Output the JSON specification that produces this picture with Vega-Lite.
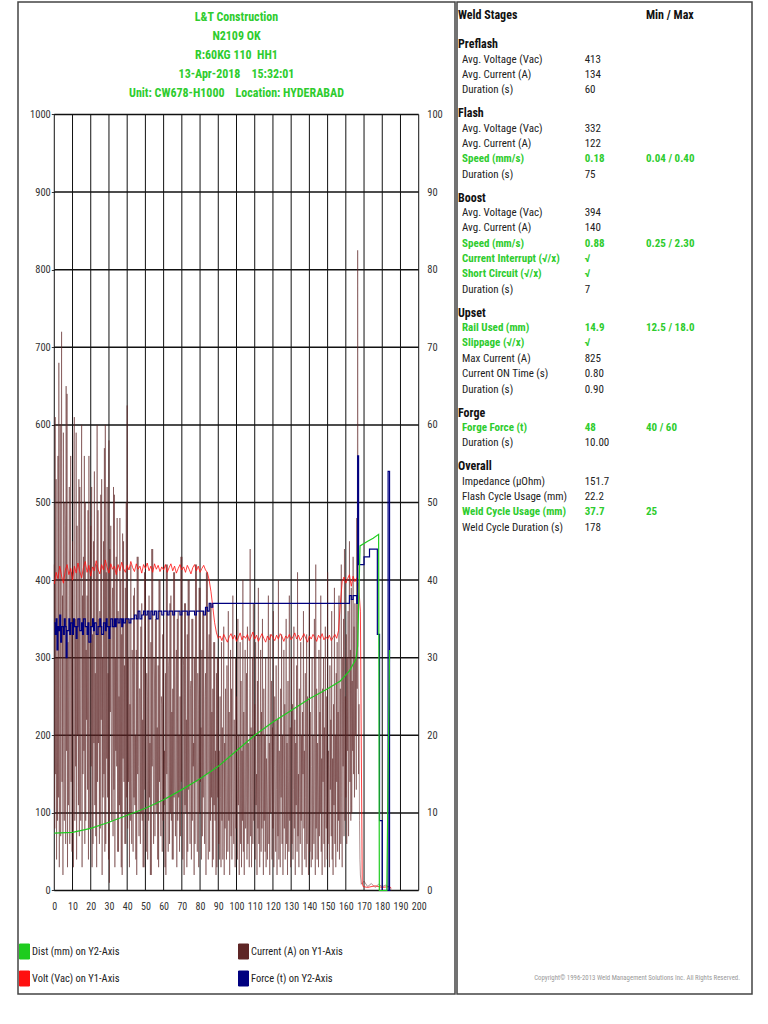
{
"$schema": "https://vega.github.io/schema/vega-lite/v6.json",
"padding": {"left": 17, "top": 1, "right": 0, "bottom": 0},
"background": "white",
"spacing": 0,
"config": {
  "view": {"stroke": "#444", "strokeWidth": 1.5},
  "font": "'Roboto Condensed', 'DejaVu Sans Condensed', 'Liberation Sans', sans-serif",
  "axis": {"labelOverlap": false}
},
"datasets": {
"gx": [{"g":0},{"g":10},{"g":20},{"g":30},{"g":40},{"g":50},{"g":60},{"g":70},{"g":80},{"g":90},{"g":100},{"g":110},{"g":120},{"g":130},{"g":140},{"g":150},{"g":160},{"g":170},{"g":180},{"g":190},{"g":200}],
"gy": [{"g":0},{"g":100},{"g":200},{"g":300},{"g":400},{"g":500},{"g":600},{"g":700},{"g":800},{"g":900},{"g":1000}],
"cur": [
{"t":0,"v":420},{"t":0.25,"v":80},{"t":0.5,"v":610},{"t":0.75,"v":150},
{"t":1,"v":530},{"t":1.25,"v":40},{"t":1.5,"v":300},{"t":1.75,"v":90},
{"t":2,"v":560},{"t":2.25,"v":120},{"t":2.5,"v":680},{"t":2.75,"v":30},
{"t":3,"v":250},{"t":3.25,"v":600},{"t":3.5,"v":70},{"t":3.75,"v":460},
{"t":4,"v":720},{"t":4.25,"v":140},{"t":4.5,"v":380},{"t":4.75,"v":20},
{"t":5,"v":590},{"t":5.25,"v":210},{"t":5.5,"v":90},{"t":5.75,"v":500},
{"t":6,"v":470},{"t":6.25,"v":60},{"t":6.5,"v":650},{"t":6.75,"v":180},
{"t":7,"v":640},{"t":7.25,"v":30},{"t":7.5,"v":320},{"t":7.75,"v":110},
{"t":8,"v":380},{"t":8.25,"v":520},{"t":8.5,"v":60},{"t":8.75,"v":270},
{"t":9,"v":560},{"t":9.25,"v":140},{"t":9.5,"v":410},{"t":9.75,"v":50},
{"t":10,"v":450},{"t":10.25,"v":230},{"t":10.5,"v":30},{"t":10.75,"v":580},
{"t":11,"v":610},{"t":11.25,"v":90},{"t":11.5,"v":350},{"t":11.75,"v":160},
{"t":12,"v":590},{"t":12.25,"v":40},{"t":12.5,"v":470},{"t":12.75,"v":200},
{"t":13,"v":350},{"t":13.25,"v":110},{"t":13.5,"v":530},{"t":13.75,"v":70},
{"t":14,"v":520},{"t":14.25,"v":260},{"t":14.5,"v":90},{"t":14.75,"v":440},
{"t":15,"v":600},{"t":15.25,"v":30},{"t":15.5,"v":380},{"t":15.75,"v":150},
{"t":16,"v":430},{"t":16.25,"v":180},{"t":16.5,"v":560},{"t":16.75,"v":60},
{"t":17,"v":500},{"t":17.25,"v":90},{"t":17.5,"v":310},{"t":17.75,"v":220},
{"t":18,"v":380},{"t":18.25,"v":130},{"t":18.5,"v":490},{"t":18.75,"v":40},
{"t":19,"v":560},{"t":19.25,"v":210},{"t":19.5,"v":80},{"t":19.75,"v":410},
{"t":20,"v":470},{"t":20.25,"v":160},{"t":20.5,"v":520},{"t":20.75,"v":30},
{"t":21,"v":330},{"t":21.25,"v":60},{"t":21.5,"v":450},{"t":21.75,"v":190},
{"t":22,"v":540},{"t":22.25,"v":110},{"t":22.5,"v":280},{"t":22.75,"v":70},
{"t":23,"v":420},{"t":23.25,"v":30},{"t":23.5,"v":600},{"t":23.75,"v":140},
{"t":24,"v":490},{"t":24.25,"v":190},{"t":24.5,"v":350},{"t":24.75,"v":60},
{"t":25,"v":360},{"t":25.25,"v":80},{"t":25.5,"v":510},{"t":25.75,"v":220},
{"t":26,"v":530},{"t":26.25,"v":20},{"t":26.5,"v":300},{"t":26.75,"v":120},
{"t":27,"v":450},{"t":27.25,"v":150},{"t":27.5,"v":570},{"t":27.75,"v":50},
{"t":28,"v":600},{"t":28.25,"v":60},{"t":28.5,"v":410},{"t":28.75,"v":170},
{"t":29,"v":520},{"t":29.25,"v":120},{"t":29.5,"v":280},{"t":29.75,"v":40},
{"t":30,"v":580},{"t":30.25,"v":10},{"t":30.5,"v":440},{"t":30.75,"v":230},
{"t":31,"v":470},{"t":31.25,"v":200},{"t":31.5,"v":90},{"t":31.75,"v":360},
{"t":32,"v":390},{"t":32.25,"v":70},{"t":32.5,"v":520},{"t":32.75,"v":130},
{"t":33,"v":510},{"t":33.25,"v":30},{"t":33.5,"v":300},{"t":33.75,"v":180},
{"t":34,"v":430},{"t":34.25,"v":160},{"t":34.5,"v":480},{"t":34.75,"v":50},
{"t":35,"v":360},{"t":35.25,"v":50},{"t":35.5,"v":250},{"t":35.75,"v":110},
{"t":36,"v":480},{"t":36.25,"v":100},{"t":36.5,"v":400},{"t":36.75,"v":30},
{"t":37,"v":330},{"t":37.25,"v":20},{"t":37.5,"v":460},{"t":37.75,"v":170},
{"t":38,"v":450},{"t":38.25,"v":140},{"t":38.5,"v":290},{"t":38.75,"v":60},
{"t":39,"v":390},{"t":39.25,"v":60},{"t":39.5,"v":500},{"t":39.75,"v":120},
{"t":40,"v":625},{"t":40.25,"v":80},{"t":40.5,"v":300},{"t":40.75,"v":140},
{"t":41,"v":350},{"t":41.25,"v":30},{"t":41.5,"v":240},{"t":41.75,"v":90},
{"t":42,"v":420},{"t":42.25,"v":140},{"t":42.5,"v":60},{"t":42.75,"v":310},
{"t":43,"v":280},{"t":43.25,"v":50},{"t":43.5,"v":380},{"t":43.75,"v":120},
{"t":44,"v":390},{"t":44.25,"v":110},{"t":44.5,"v":200},{"t":44.75,"v":40},
{"t":45,"v":310},{"t":45.25,"v":20},{"t":45.5,"v":430},{"t":45.75,"v":150},
{"t":46,"v":430},{"t":46.25,"v":160},{"t":46.5,"v":70},{"t":46.75,"v":260},
{"t":47,"v":260},{"t":47.25,"v":60},{"t":47.5,"v":340},{"t":47.75,"v":100},
{"t":48,"v":370},{"t":48.25,"v":90},{"t":48.5,"v":220},{"t":48.75,"v":30},
{"t":49,"v":300},{"t":49.25,"v":30},{"t":49.5,"v":410},{"t":49.75,"v":130},
{"t":50,"v":410},{"t":50.25,"v":150},{"t":50.5,"v":50},{"t":50.75,"v":280},
{"t":51,"v":250},{"t":51.25,"v":40},{"t":51.5,"v":360},{"t":51.75,"v":90},
{"t":52,"v":380},{"t":52.25,"v":120},{"t":52.5,"v":190},{"t":52.75,"v":20},
{"t":53,"v":320},{"t":53.25,"v":20},{"t":53.5,"v":440},{"t":53.75,"v":160},
{"t":54,"v":440},{"t":54.25,"v":170},{"t":54.5,"v":60},{"t":54.75,"v":300},
{"t":55,"v":270},{"t":55.25,"v":70},{"t":55.5,"v":350},{"t":55.75,"v":110},
{"t":56,"v":360},{"t":56.25,"v":100},{"t":56.5,"v":210},{"t":56.75,"v":40},
{"t":57,"v":290},{"t":57.25,"v":30},{"t":57.5,"v":400},{"t":57.75,"v":140},
{"t":58,"v":400},{"t":58.25,"v":130},{"t":58.5,"v":70},{"t":58.75,"v":250},
{"t":59,"v":240},{"t":59.25,"v":50},{"t":59.5,"v":330},{"t":59.75,"v":90},
{"t":60,"v":350},{"t":60.25,"v":110},{"t":60.5,"v":180},{"t":60.75,"v":30},
{"t":61,"v":280},{"t":61.25,"v":20},{"t":61.5,"v":420},{"t":61.75,"v":150},
{"t":62,"v":420},{"t":62.25,"v":160},{"t":62.5,"v":50},{"t":62.75,"v":290},
{"t":63,"v":300},{"t":63.25,"v":60},{"t":63.5,"v":370},{"t":63.75,"v":100},
{"t":64,"v":380},{"t":64.25,"v":90},{"t":64.5,"v":230},{"t":64.75,"v":40},
{"t":65,"v":260},{"t":65.25,"v":40},{"t":65.5,"v":410},{"t":65.75,"v":120},
{"t":66,"v":410},{"t":66.25,"v":140},{"t":66.5,"v":70},{"t":66.75,"v":270},
{"t":67,"v":310},{"t":67.25,"v":30},{"t":67.5,"v":350},{"t":67.75,"v":90},
{"t":68,"v":360},{"t":68.25,"v":120},{"t":68.5,"v":200},{"t":68.75,"v":50},
{"t":69,"v":250},{"t":69.25,"v":70},{"t":69.5,"v":430},{"t":69.75,"v":140},
{"t":70,"v":430},{"t":70.25,"v":150},{"t":70.5,"v":40},{"t":70.75,"v":300},
{"t":71,"v":290},{"t":71.25,"v":20},{"t":71.5,"v":370},{"t":71.75,"v":110},
{"t":72,"v":370},{"t":72.25,"v":100},{"t":72.5,"v":220},{"t":72.75,"v":30},
{"t":73,"v":330},{"t":73.25,"v":50},{"t":73.5,"v":400},{"t":73.75,"v":130},
{"t":74,"v":400},{"t":74.25,"v":130},{"t":74.5,"v":60},{"t":74.75,"v":260},
{"t":75,"v":270},{"t":75.25,"v":40},{"t":75.5,"v":350},{"t":75.75,"v":90},
{"t":76,"v":350},{"t":76.25,"v":160},{"t":76.5,"v":190},{"t":76.75,"v":20},
{"t":77,"v":300},{"t":77.25,"v":60},{"t":77.5,"v":420},{"t":77.75,"v":140},
{"t":78,"v":420},{"t":78.25,"v":110},{"t":78.5,"v":50},{"t":78.75,"v":280},
{"t":79,"v":240},{"t":79.25,"v":30},{"t":79.5,"v":390},{"t":79.75,"v":100},
{"t":80,"v":390},{"t":80.25,"v":140},{"t":80.5,"v":210},{"t":80.75,"v":40},
{"t":81,"v":310},{"t":81.25,"v":70},{"t":81.5,"v":360},{"t":81.75,"v":120},
{"t":82,"v":360},{"t":82.25,"v":100},{"t":82.5,"v":60},{"t":82.75,"v":250},
{"t":83,"v":280},{"t":83.25,"v":20},{"t":83.5,"v":410},{"t":83.75,"v":150},
{"t":84,"v":410},{"t":84.25,"v":150},{"t":84.5,"v":40},{"t":84.75,"v":300},
{"t":85,"v":330},{"t":85.25,"v":50},{"t":85.5,"v":370},{"t":85.75,"v":90},
{"t":86,"v":370},{"t":86.25,"v":120},{"t":86.5,"v":230},{"t":86.75,"v":30},
{"t":87,"v":260},{"t":87.25,"v":40},{"t":87.5,"v":320},{"t":87.75,"v":110},
{"t":88,"v":320},{"t":88.25,"v":90},{"t":88.5,"v":180},{"t":88.75,"v":20},
{"t":89,"v":280},{"t":89.25,"v":30},{"t":89.5,"v":300},{"t":89.75,"v":120},
{"t":90,"v":300},{"t":90.25,"v":60},{"t":90.5,"v":180},{"t":90.75,"v":40},
{"t":91,"v":250},{"t":91.25,"v":120},{"t":91.5,"v":30},{"t":91.75,"v":320},
{"t":92,"v":90},{"t":92.25,"v":210},{"t":92.5,"v":40},{"t":92.75,"v":150},
{"t":93,"v":340},{"t":93.25,"v":20},{"t":93.5,"v":190},{"t":93.75,"v":80},
{"t":94,"v":260},{"t":94.25,"v":110},{"t":94.5,"v":40},{"t":94.75,"v":290},
{"t":95,"v":150},{"t":95.25,"v":50},{"t":95.5,"v":360},{"t":95.75,"v":90},
{"t":96,"v":230},{"t":96.25,"v":20},{"t":96.5,"v":130},{"t":96.75,"v":310},
{"t":97,"v":70},{"t":97.25,"v":260},{"t":97.5,"v":40},{"t":97.75,"v":190},
{"t":98,"v":380},{"t":98.25,"v":100},{"t":98.5,"v":60},{"t":98.75,"v":220},
{"t":99,"v":140},{"t":99.25,"v":30},{"t":99.5,"v":300},{"t":99.75,"v":80},
{"t":100,"v":250},{"t":100.25,"v":140},{"t":100.5,"v":40},{"t":100.75,"v":350},
{"t":101,"v":110},{"t":101.25,"v":200},{"t":101.5,"v":20},{"t":101.75,"v":160},
{"t":102,"v":320},{"t":102.25,"v":60},{"t":102.5,"v":270},{"t":102.75,"v":30},
{"t":103,"v":180},{"t":103.25,"v":90},{"t":103.5,"v":400},{"t":103.75,"v":50},
{"t":104,"v":230},{"t":104.25,"v":20},{"t":104.5,"v":150},{"t":104.75,"v":310},
{"t":105,"v":80},{"t":105.25,"v":120},{"t":105.5,"v":280},{"t":105.75,"v":40},
{"t":106,"v":340},{"t":106.25,"v":60},{"t":106.5,"v":190},{"t":106.75,"v":100},
{"t":107,"v":30},{"t":107.25,"v":260},{"t":107.5,"v":440},{"t":107.75,"v":70},
{"t":108,"v":210},{"t":108.25,"v":30},{"t":108.5,"v":130},{"t":108.75,"v":300},
{"t":109,"v":60},{"t":109.25,"v":370},{"t":109.5,"v":90},{"t":109.75,"v":180},
{"t":110,"v":240},{"t":110.25,"v":40},{"t":110.5,"v":320},{"t":110.75,"v":110},
{"t":111,"v":150},{"t":111.25,"v":20},{"t":111.5,"v":270},{"t":111.75,"v":80},
{"t":112,"v":390},{"t":112.25,"v":60},{"t":112.5,"v":200},{"t":112.75,"v":30},
{"t":113,"v":120},{"t":113.25,"v":310},{"t":113.5,"v":50},{"t":113.75,"v":230},
{"t":114,"v":80},{"t":114.25,"v":350},{"t":114.5,"v":140},{"t":114.75,"v":20},
{"t":115,"v":260},{"t":115.25,"v":90},{"t":115.5,"v":200},{"t":115.75,"v":50},
{"t":116,"v":300},{"t":116.25,"v":30},{"t":116.5,"v":170},{"t":116.75,"v":120},
{"t":117,"v":40},{"t":117.25,"v":240},{"t":117.5,"v":380},{"t":117.75,"v":60},
{"t":118,"v":190},{"t":118.25,"v":20},{"t":118.5,"v":330},{"t":118.75,"v":100},
{"t":119,"v":140},{"t":119.25,"v":270},{"t":119.5,"v":40},{"t":119.75,"v":210},
{"t":120,"v":80},{"t":120.25,"v":360},{"t":120.5,"v":30},{"t":120.75,"v":160},
{"t":121,"v":250},{"t":121.25,"v":110},{"t":121.5,"v":50},{"t":121.75,"v":290},
{"t":122,"v":130},{"t":122.25,"v":20},{"t":122.5,"v":220},{"t":122.75,"v":70},
{"t":123,"v":400},{"t":123.25,"v":40},{"t":123.5,"v":180},{"t":123.75,"v":100},
{"t":124,"v":30},{"t":124.25,"v":260},{"t":124.5,"v":120},{"t":124.75,"v":330},
{"t":125,"v":60},{"t":125.25,"v":200},{"t":125.5,"v":20},{"t":125.75,"v":150},
{"t":126,"v":310},{"t":126.25,"v":80},{"t":126.5,"v":240},{"t":126.75,"v":40},
{"t":127,"v":110},{"t":127.25,"v":350},{"t":127.5,"v":60},{"t":127.75,"v":190},
{"t":128,"v":20},{"t":128.25,"v":270},{"t":128.5,"v":140},{"t":128.75,"v":50},
{"t":129,"v":380},{"t":129.25,"v":90},{"t":129.5,"v":210},{"t":129.75,"v":30},
{"t":130,"v":160},{"t":130.25,"v":300},{"t":130.5,"v":60},{"t":130.75,"v":240},
{"t":131,"v":40},{"t":131.25,"v":130},{"t":131.5,"v":340},{"t":131.75,"v":80},
{"t":132,"v":220},{"t":132.25,"v":20},{"t":132.5,"v":190},{"t":132.75,"v":110},
{"t":133,"v":290},{"t":133.25,"v":50},{"t":133.5,"v":410},{"t":133.75,"v":70},
{"t":134,"v":150},{"t":134.25,"v":30},{"t":134.5,"v":260},{"t":134.75,"v":120},
{"t":135,"v":60},{"t":135.25,"v":320},{"t":135.5,"v":90},{"t":135.75,"v":200},
{"t":136,"v":20},{"t":136.25,"v":230},{"t":136.5,"v":150},{"t":136.75,"v":360},
{"t":137,"v":80},{"t":137.25,"v":180},{"t":137.5,"v":40},{"t":137.75,"v":280},
{"t":138,"v":120},{"t":138.25,"v":30},{"t":138.5,"v":330},{"t":138.75,"v":60},
{"t":139,"v":250},{"t":139.25,"v":100},{"t":139.5,"v":20},{"t":139.75,"v":190},
{"t":140,"v":370},{"t":140.25,"v":50},{"t":140.5,"v":230},{"t":140.75,"v":90},
{"t":141,"v":30},{"t":141.25,"v":160},{"t":141.5,"v":300},{"t":141.75,"v":40},
{"t":142,"v":200},{"t":142.25,"v":110},{"t":142.5,"v":60},{"t":142.75,"v":350},
{"t":143,"v":140},{"t":143.25,"v":20},{"t":143.5,"v":420},{"t":143.75,"v":80},
{"t":144,"v":260},{"t":144.25,"v":40},{"t":144.5,"v":190},{"t":144.75,"v":120},
{"t":145,"v":30},{"t":145.25,"v":310},{"t":145.5,"v":70},{"t":145.75,"v":230},
{"t":146,"v":100},{"t":146.25,"v":380},{"t":146.5,"v":50},{"t":146.75,"v":170},
{"t":147,"v":20},{"t":147.25,"v":260},{"t":147.5,"v":140},{"t":147.75,"v":300},
{"t":148,"v":60},{"t":148.25,"v":210},{"t":148.5,"v":30},{"t":148.75,"v":340},
{"t":149,"v":120},{"t":149.25,"v":80},{"t":149.5,"v":250},{"t":149.75,"v":40},
{"t":150,"v":410},{"t":150.25,"v":60},{"t":150.5,"v":180},{"t":150.75,"v":100},
{"t":151,"v":30},{"t":151.25,"v":290},{"t":151.5,"v":130},{"t":151.75,"v":220},
{"t":152,"v":70},{"t":152.25,"v":360},{"t":152.5,"v":40},{"t":152.75,"v":170},
{"t":153,"v":20},{"t":153.25,"v":240},{"t":153.5,"v":110},{"t":153.75,"v":390},
{"t":154,"v":60},{"t":154.25,"v":200},{"t":154.5,"v":30},{"t":154.75,"v":280},
{"t":155,"v":140},{"t":155.25,"v":320},{"t":155.5,"v":50},{"t":155.75,"v":230},
{"t":156,"v":90},{"t":156.25,"v":380},{"t":156.5,"v":40},{"t":156.75,"v":180},
{"t":157,"v":260},{"t":157.25,"v":60},{"t":157.5,"v":420},{"t":157.75,"v":120},
{"t":158,"v":30},{"t":158.25,"v":300},{"t":158.5,"v":160},{"t":158.75,"v":350},
{"t":159,"v":70},{"t":159.25,"v":440},{"t":159.5,"v":90},{"t":159.75,"v":250},
{"t":160,"v":120},{"t":160.25,"v":330},{"t":160.5,"v":60},{"t":160.75,"v":300},
{"t":161,"v":180},{"t":161.25,"v":360},{"t":161.5,"v":70},{"t":161.75,"v":280},
{"t":162,"v":450},{"t":162.25,"v":140},{"t":162.5,"v":310},{"t":162.75,"v":90},
{"t":163,"v":390},{"t":163.25,"v":100},{"t":163.5,"v":270},{"t":163.75,"v":180},
{"t":164,"v":430},{"t":164.25,"v":150},{"t":164.5,"v":340},{"t":164.75,"v":120},
{"t":165,"v":370},{"t":165.25,"v":200},{"t":165.5,"v":300},{"t":165.75,"v":130},
{"t":166,"v":480},{"t":166.25,"v":260},{"t":166.5,"v":825},{"t":166.75,"v":300},
{"t":167,"v":150},{"t":167.25,"v":240},{"t":167.5,"v":90},{"t":167.75,"v":40},
{"t":168,"v":20},{"t":168.5,"v":8},{"t":170,"v":12},{"t":172,"v":5},{"t":174,"v":9},{"t":176,"v":4},{"t":178,"v":8},{"t":180,"v":5},{"t":182,"v":7},{"t":184,"v":4},{"t":185,"v":0}],
"volt": [{"t":0,"v":395},{"t":1,"v":410},{"t":2,"v":402},{"t":3,"v":418},{"t":4,"v":405},{"t":5,"v":396},{"t":6,"v":412},{"t":7,"v":420},{"t":8,"v":407},{"t":9,"v":415},{"t":10,"v":400},{"t":11,"v":418},{"t":12,"v":409},{"t":13,"v":422},{"t":14,"v":411},{"t":15,"v":403},{"t":16,"v":416},{"t":17,"v":424},{"t":18,"v":410},{"t":19,"v":419},{"t":20,"v":405},{"t":21,"v":417},{"t":22,"v":412},{"t":23,"v":425},{"t":24,"v":414},{"t":25,"v":408},{"t":26,"v":420},{"t":27,"v":413},{"t":28,"v":426},{"t":29,"v":416},{"t":30,"v":409},{"t":31,"v":421},{"t":32,"v":414},{"t":33,"v":418},{"t":34,"v":407},{"t":35,"v":420},{"t":36,"v":412},{"t":37,"v":423},{"t":38,"v":415},{"t":39,"v":410},{"t":40,"v":419},{"t":41,"v":413},{"t":42,"v":424},{"t":43,"v":416},{"t":44,"v":411},{"t":45,"v":421},{"t":46,"v":414},{"t":47,"v":418},{"t":48,"v":409},{"t":49,"v":420},{"t":50,"v":415},{"t":51,"v":422},{"t":52,"v":412},{"t":53,"v":418},{"t":54,"v":410},{"t":55,"v":421},{"t":56,"v":414},{"t":57,"v":419},{"t":58,"v":411},{"t":59,"v":417},{"t":60,"v":413},{"t":61,"v":420},{"t":62,"v":410},{"t":63,"v":416},{"t":64,"v":421},{"t":65,"v":412},{"t":66,"v":418},{"t":67,"v":409},{"t":68,"v":415},{"t":69,"v":420},{"t":70,"v":413},{"t":71,"v":417},{"t":72,"v":410},{"t":73,"v":419},{"t":74,"v":414},{"t":75,"v":408},{"t":76,"v":416},{"t":77,"v":420},{"t":78,"v":412},{"t":79,"v":418},{"t":80,"v":410},{"t":81,"v":415},{"t":82,"v":419},{"t":83,"v":413},{"t":84,"v":410},{"t":85,"v":400},{"t":86,"v":385},{"t":87,"v":365},{"t":88,"v":345},{"t":89,"v":332},{"t":90,"v":325},{"t":91,"v":328},{"t":92,"v":322},{"t":93,"v":330},{"t":94,"v":325},{"t":95,"v":320},{"t":96,"v":327},{"t":97,"v":331},{"t":98,"v":324},{"t":99,"v":329},{"t":100,"v":321},{"t":101,"v":326},{"t":102,"v":332},{"t":103,"v":323},{"t":104,"v":328},{"t":105,"v":325},{"t":106,"v":330},{"t":107,"v":322},{"t":108,"v":327},{"t":109,"v":333},{"t":110,"v":324},{"t":111,"v":329},{"t":112,"v":321},{"t":113,"v":326},{"t":114,"v":331},{"t":115,"v":325},{"t":116,"v":320},{"t":117,"v":328},{"t":118,"v":323},{"t":119,"v":330},{"t":120,"v":326},{"t":121,"v":322},{"t":122,"v":329},{"t":123,"v":324},{"t":124,"v":331},{"t":125,"v":327},{"t":126,"v":321},{"t":127,"v":328},{"t":128,"v":325},{"t":129,"v":330},{"t":130,"v":323},{"t":131,"v":327},{"t":132,"v":332},{"t":133,"v":324},{"t":134,"v":329},{"t":135,"v":322},{"t":136,"v":326},{"t":137,"v":331},{"t":138,"v":325},{"t":139,"v":320},{"t":140,"v":328},{"t":141,"v":324},{"t":142,"v":330},{"t":143,"v":326},{"t":144,"v":321},{"t":145,"v":329},{"t":146,"v":325},{"t":147,"v":331},{"t":148,"v":323},{"t":149,"v":327},{"t":150,"v":324},{"t":151,"v":329},{"t":152,"v":322},{"t":153,"v":326},{"t":154,"v":330},{"t":155,"v":325},{"t":156,"v":335},{"t":157,"v":370},{"t":158,"v":398},{"t":159,"v":404},{"t":160,"v":396},{"t":161,"v":402},{"t":162,"v":407},{"t":163,"v":392},{"t":164,"v":405},{"t":165,"v":398},{"t":166,"v":403},{"t":167,"v":395},{"t":168,"v":360},{"t":169,"v":10},{"t":169.5,"v":5},{"t":172,"v":4},{"t":176,"v":6},{"t":180,"v":4},{"t":184,"v":5},{"t":185,"v":3}],
"force": [{"t":0,"v":34.5},{"t":0.5,"v":33},{"t":1,"v":35},{"t":1.5,"v":31},{"t":2,"v":34},{"t":2.5,"v":33.5},{"t":3,"v":35.5},{"t":3.5,"v":32},{"t":4,"v":34},{"t":5,"v":33},{"t":5.5,"v":35},{"t":6,"v":34},{"t":6.5,"v":30},{"t":7,"v":33.5},{"t":8,"v":35},{"t":8.5,"v":33},{"t":9,"v":34.5},{"t":10,"v":33},{"t":10.5,"v":35},{"t":11,"v":34},{"t":12,"v":32.5},{"t":12.5,"v":34},{"t":13,"v":35},{"t":14,"v":33.5},{"t":15,"v":34.5},{"t":15.5,"v":33},{"t":16,"v":35},{"t":17,"v":34},{"t":18,"v":33},{"t":18.5,"v":34.5},{"t":19,"v":32},{"t":20,"v":34},{"t":21,"v":35},{"t":21.5,"v":33.5},{"t":22,"v":34.5},{"t":23,"v":33},{"t":24,"v":34},{"t":25,"v":35},{"t":25.5,"v":34},{"t":26,"v":33},{"t":27,"v":34.5},{"t":28,"v":33.5},{"t":28.5,"v":35},{"t":29,"v":34},{"t":30,"v":32.5},{"t":30.5,"v":34},{"t":31,"v":35},{"t":32,"v":34},{"t":33,"v":35},{"t":33.5,"v":34},{"t":34,"v":35},{"t":35,"v":34.5},{"t":36,"v":35},{"t":37,"v":34},{"t":37.5,"v":35},{"t":38,"v":34.5},{"t":39,"v":35},{"t":41,"v":34.5},{"t":42,"v":35},{"t":44,"v":35.5},{"t":45,"v":35},{"t":46,"v":36},{"t":47,"v":35},{"t":48,"v":35.5},{"t":49,"v":36},{"t":50,"v":35.5},{"t":51,"v":36},{"t":52,"v":35},{"t":53,"v":36},{"t":54,"v":35.5},{"t":55,"v":36},{"t":56,"v":35},{"t":57,"v":36},{"t":59,"v":35.5},{"t":60,"v":36},{"t":62,"v":35.5},{"t":63,"v":36},{"t":65,"v":35.5},{"t":66,"v":36},{"t":69,"v":35.5},{"t":70,"v":36},{"t":73,"v":35.5},{"t":74,"v":36},{"t":77,"v":35.5},{"t":78,"v":36},{"t":82,"v":35.5},{"t":83,"v":36.5},{"t":84,"v":36},{"t":85,"v":37},{"t":86,"v":36.5},{"t":87,"v":37},{"t":162,"v":38},{"t":163,"v":37.5},{"t":164,"v":38},{"t":166,"v":37},{"t":166.5,"v":56},{"t":167,"v":42},{"t":170,"v":43},{"t":173,"v":44},{"t":177.3,"v":33},{"t":178.5,"v":9},{"t":180,"v":0},{"t":183.2,"v":54},{"t":184,"v":0},{"t":184.5,"v":0}],
"dist": [{"t":0,"v":7.4},{"t":10,"v":7.5},{"t":20,"v":8.0},{"t":30,"v":8.8},{"t":40,"v":9.7},{"t":50,"v":10.6},{"t":60,"v":11.7},{"t":70,"v":13.0},{"t":80,"v":14.4},{"t":90,"v":16.0},{"t":100,"v":18.0},{"t":110,"v":20.0},{"t":120,"v":21.7},{"t":130,"v":23.2},{"t":140,"v":24.7},{"t":150,"v":26.0},{"t":157,"v":27.0},{"t":162,"v":28.3},{"t":165.5,"v":29.8},{"t":166.5,"v":31.5},{"t":167.8,"v":44.4},{"t":172,"v":45.0},{"t":175,"v":45.4},{"t":178,"v":45.9},{"t":178.4,"v":0},{"t":182.5,"v":0},{"t":184,"v":31}],
"panel": [
{"line":0,"kind":"title","label":"Weld Stages","value":"","minmax":"Min / Max"},
{"line":1.9,"kind":"head","label":"Preflash","value":"","minmax":""},
{"line":2.9,"kind":"item","label":"Avg. Voltage (Vac)","value":"413","minmax":""},
{"line":3.9,"kind":"item","label":"Avg. Current (A)","value":"134","minmax":""},
{"line":4.9,"kind":"item","label":"Duration (s)","value":"60","minmax":""},
{"line":6.4,"kind":"head","label":"Flash","value":"","minmax":""},
{"line":7.4,"kind":"item","label":"Avg. Voltage (Vac)","value":"332","minmax":""},
{"line":8.4,"kind":"item","label":"Avg. Current (A)","value":"122","minmax":""},
{"line":9.4,"kind":"key","label":"Speed (mm/s)","value":"0.18","minmax":"0.04 / 0.40"},
{"line":10.4,"kind":"item","label":"Duration (s)","value":"75","minmax":""},
{"line":11.9,"kind":"head","label":"Boost","value":"","minmax":""},
{"line":12.9,"kind":"item","label":"Avg. Voltage (Vac)","value":"394","minmax":""},
{"line":13.9,"kind":"item","label":"Avg. Current (A)","value":"140","minmax":""},
{"line":14.9,"kind":"key","label":"Speed (mm/s)","value":"0.88","minmax":"0.25 / 2.30"},
{"line":15.9,"kind":"key","label":"Current Interrupt (√/x)","value":"√","minmax":""},
{"line":16.9,"kind":"key","label":"Short Circuit (√/x)","value":"√","minmax":""},
{"line":17.9,"kind":"item","label":"Duration (s)","value":"7","minmax":""},
{"line":19.4,"kind":"head","label":"Upset","value":"","minmax":""},
{"line":20.4,"kind":"key","label":"Rail Used (mm)","value":"14.9","minmax":"12.5 / 18.0"},
{"line":21.4,"kind":"key","label":"Slippage (√/x)","value":"√","minmax":""},
{"line":22.4,"kind":"item","label":"Max Current (A)","value":"825","minmax":""},
{"line":23.4,"kind":"item","label":"Current ON Time (s)","value":"0.80","minmax":""},
{"line":24.4,"kind":"item","label":"Duration (s)","value":"0.90","minmax":""},
{"line":25.9,"kind":"head","label":"Forge","value":"","minmax":""},
{"line":26.9,"kind":"key","label":"Forge Force (t)","value":"48","minmax":"40 / 60"},
{"line":27.9,"kind":"item","label":"Duration (s)","value":"10.00","minmax":""},
{"line":29.4,"kind":"head","label":"Overall","value":"","minmax":""},
{"line":30.4,"kind":"item","label":"Impedance (µOhm)","value":"151.7","minmax":""},
{"line":31.4,"kind":"item","label":"Flash Cycle Usage (mm)","value":"22.2","minmax":""},
{"line":32.4,"kind":"key","label":"Weld Cycle Usage (mm)","value":"37.7","minmax":"25"},
{"line":33.4,"kind":"item","label":"Weld Cycle Duration (s)","value":"178","minmax":""},
{"line":62.74,"kind":"copy","label":"Copyright© 1996-2013 Weld Management Solutions Inc. All Rights Reserved.","value":"","minmax":""}
]
},
"hconcat": [
{
 "width": 437, "height": 992,
 "title": {"text": ["L&T Construction", "N2109 OK", "R:60KG 110\u00a0\u00a0HH1", "13-Apr-2018\u00a0\u00a0\u00a0\u00a015:32:01", "Unit: CW678-H1000\u00a0\u00a0\u00a0\u00a0Location: HYDERABAD"], "anchor": "middle", "frame": "group", "offset": -98, "baseline": "top", "lineHeight": 19, "fontSize": 12, "fontWeight": "bold", "color": "#2ecc2e"},
 "layer": [
  {"layer": [
    {"data": {"name": "gx"}, "mark": {"type": "rule", "color": "#111", "strokeWidth": 1},
     "encoding": {
       "x": {"field": "g", "type": "quantitative", "scale": {"domain": [-19.92, 219.92], "nice": false, "zero": false},
             "axis": {"title": null, "values": [0,10,20,30,40,50,60,70,80,90,100,110,120,130,140,150,160,170,180,190,200], "tickCount": 30, "offset": -103.5, "domain": false, "ticks": false, "tickSize": 0, "labelPadding": 11, "grid": false, "labelOverlap": false, "labelFontSize": 10, "labelColor": "#333"}},
       "y": {"datum": 0, "type": "quantitative", "scale": {"domain": [-133.38, 1144.97], "nice": false, "zero": false},
             "axis": {"title": null, "orient": "left", "format": "d", "values": [0,100,200,300,400,500,600,700,800,900,1000], "tickCount": 30, "offset": -36.3, "domain": false, "ticks": true, "tickSize": 3, "tickColor": "#333", "labelPadding": 1, "grid": false, "labelFontSize": 10.5, "labelColor": "#333"}},
       "y2": {"datum": 1000}}},
    {"data": {"name": "gy"}, "mark": {"type": "rule", "color": "#111", "strokeWidth": 1.5},
     "encoding": {"y": {"field": "g", "type": "quantitative"}, "x": {"datum": 0, "type": "quantitative"}, "x2": {"datum": 200}}},
    {"data": {"name": "cur"}, "mark": {"type": "line", "strokeWidth": 0.5},
     "encoding": {"x": {"field": "t", "type": "quantitative"}, "y": {"field": "v", "type": "quantitative"},
       "color": {"datum": "Current (A) on Y1-Axis", "type": "nominal",
         "scale": {"domain": ["Dist (mm) on Y2-Axis", "Volt (Vac) on Y1-Axis", "Current (A) on Y1-Axis", "Force (t) on Y2-Axis"], "range": ["#1fcc1f", "#ff1010", "#5e2626", "#000080"]},
         "legend": {"title": null, "orient": "none", "legendX": 1, "legendY": 944, "columns": 2, "gridAlign": "all", "columnPadding": 112, "rowPadding": 8, "padding": 0,
           "symbolType": "M-1,-1.5H1V1.5H-1Z", "symbolSize": 100, "symbolStrokeColor": "#000", "symbolStrokeWidth": 1, "symbolOpacity": 1,
           "labelFontSize": 10.5, "labelColor": "#222", "labelOffset": 2,
           "encode": {"symbols": {"update": {"fill": {"scale": "color", "field": "value"}, "fillOpacity": {"value": 1}, "stroke": {"value": "#000"}, "strokeWidth": {"value": 1}}}}}}}},
    {"data": {"name": "volt"}, "mark": {"type": "line", "strokeWidth": 0.8},
     "encoding": {"x": {"field": "t", "type": "quantitative"}, "y": {"field": "v", "type": "quantitative"}, "color": {"datum": "Volt (Vac) on Y1-Axis", "type": "nominal"}}}
  ]},
  {"layer": [
    {"data": {"name": "force"}, "mark": {"type": "line", "strokeWidth": 1.2, "interpolate": "step-after"},
     "encoding": {"x": {"field": "t", "type": "quantitative"},
       "y": {"field": "v", "type": "quantitative", "scale": {"domain": [-13.338, 114.497], "nice": false, "zero": false},
             "axis": {"title": null, "orient": "right", "values": [0,10,20,30,40,50,60,70,80,90,100], "tickCount": 30, "offset": -36.3, "domain": false, "ticks": false, "tickSize": 0, "labelPadding": 8, "grid": false, "labelFontSize": 10.5, "labelColor": "#333"}},
       "color": {"datum": "Force (t) on Y2-Axis", "type": "nominal"}}},
    {"data": {"name": "dist"}, "mark": {"type": "line", "strokeWidth": 1.2},
     "encoding": {"x": {"field": "t", "type": "quantitative"}, "y": {"field": "v", "type": "quantitative"}, "color": {"datum": "Dist (mm) on Y2-Axis", "type": "nominal"}}}
  ]}
 ],
 "resolve": {"scale": {"y": "independent"}}
},
{
 "width": 295, "height": 992,
 "data": {"name": "panel"},
 "encoding": {"y": {"field": "line", "type": "quantitative", "scale": {"domain": [-0.847, 63.78], "reverse": true, "nice": false, "zero": false}, "axis": null}},
 "layer": [
  {"transform": [{"filter": "datum.kind == 'head' || datum.kind == 'title'"}],
   "mark": {"type": "text", "align": "left", "baseline": "middle", "dx": -4, "fontWeight": "bold", "fontSize": 12, "color": "#111"},
   "encoding": {"x": {"datum": "label", "type": "nominal", "scale": {"type": "point", "domain": ["label", "gap", "value", "minmax"], "range": [5, 189], "padding": 0}, "axis": null}, "text": {"field": "label"}}},
  {"transform": [{"filter": "datum.kind == 'title'"}],
   "mark": {"type": "text", "align": "left", "baseline": "middle", "fontWeight": "bold", "fontSize": 12, "color": "#111"},
   "encoding": {"x": {"datum": "minmax", "type": "nominal"}, "text": {"field": "minmax"}}},
  {"transform": [{"filter": "datum.kind == 'item'"}],
   "mark": {"type": "text", "align": "left", "baseline": "middle", "fontSize": 11, "color": "#222"},
   "encoding": {"x": {"datum": "label", "type": "nominal"}, "text": {"field": "label"}}},
  {"transform": [{"filter": "datum.kind == 'item'"}],
   "mark": {"type": "text", "align": "left", "baseline": "middle", "fontSize": 11, "color": "#222"},
   "encoding": {"x": {"datum": "value", "type": "nominal"}, "text": {"field": "value"}}},
  {"transform": [{"filter": "datum.kind == 'key'"}],
   "mark": {"type": "text", "align": "left", "baseline": "middle", "fontSize": 11, "fontWeight": "bold", "color": "#2ecc2e"},
   "encoding": {"x": {"datum": "label", "type": "nominal"}, "text": {"field": "label"}}},
  {"transform": [{"filter": "datum.kind == 'key'"}],
   "mark": {"type": "text", "align": "left", "baseline": "middle", "fontSize": 11, "fontWeight": "bold", "color": "#2ecc2e"},
   "encoding": {"x": {"datum": "value", "type": "nominal"}, "text": {"field": "value"}}},
  {"transform": [{"filter": "datum.kind == 'key'"}],
   "mark": {"type": "text", "align": "left", "baseline": "middle", "fontSize": 11, "fontWeight": "bold", "color": "#2ecc2e"},
   "encoding": {"x": {"datum": "minmax", "type": "nominal"}, "text": {"field": "minmax"}}},
  {"transform": [{"filter": "datum.kind == 'copy'"}],
   "mark": {"type": "text", "align": "right", "baseline": "middle", "dx": 94, "fontSize": 6.8, "color": "#999"},
   "encoding": {"x": {"datum": "minmax", "type": "nominal"}, "text": {"field": "label"}}}
 ]
}
]
}
